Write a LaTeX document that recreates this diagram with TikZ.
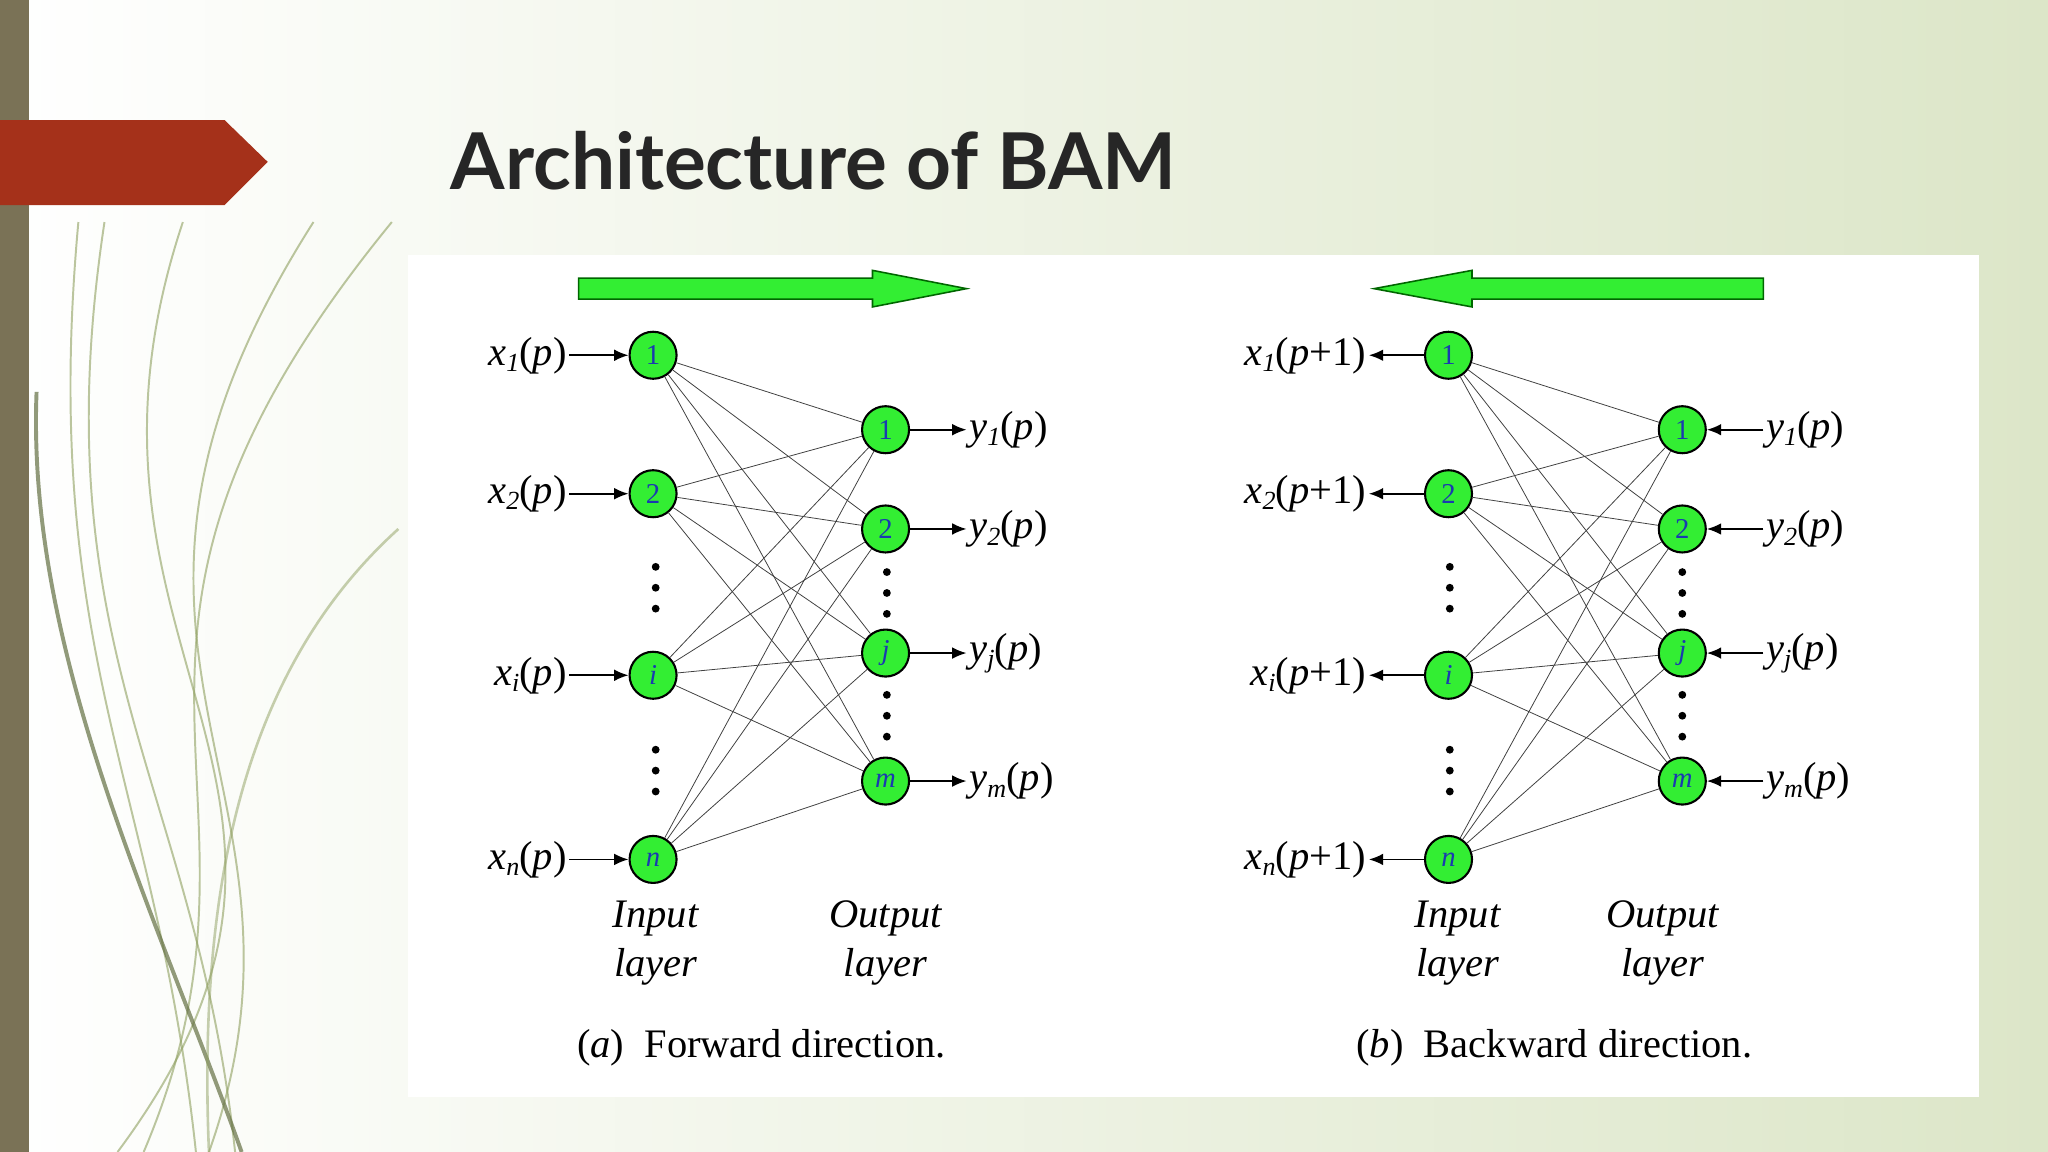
\documentclass[tikz,border=0pt]{standalone}
\usepackage{fontspec}
\setmainfont{Liberation Serif}
\newfontfamily\titlefont{Lato}
\usetikzlibrary{arrows.meta}
\definecolor{bgA}{HTML}{FFFFFF}
\definecolor{bgB}{HTML}{DCE6C8}
\definecolor{bar}{HTML}{7A7256}
\definecolor{redtab}{HTML}{A5311A}
\definecolor{nodegreen}{HTML}{33EE33}
\definecolor{numblue}{HTML}{1A3AB0}
\definecolor{leaf}{HTML}{8FA060}
\newcommand{\vv}[2]{\textit{#1}\raisebox{-5pt}{\fontsize{20}{20}\selectfont\textit{#2}}}
\tikzset{
 neuron/.style={circle,draw=black,line width=1.6pt,fill=nodegreen,minimum size=36pt,inner sep=0pt,font=\fontsize{22}{22}\selectfont\color{numblue}},
 lab/.style={font=\fontsize{31}{31}\selectfont,inner sep=2pt},
 sig/.style={-{Latex[length=11pt,width=9pt]},line width=1.4pt},
 wire/.style={line width=0.6pt,black!75},
 dot/.style={circle,fill=black,inner sep=0pt,minimum size=6pt},
 big/.style={fill=nodegreen,draw=black!60!green,line width=1.2pt},
 txt/.style={font=\fontsize{31}{37}\selectfont\itshape,align=center},
}
\begin{document}
\begin{tikzpicture}[x=1pt,y=-1pt]
\useasboundingbox (0,0) rectangle (1568,882);
\shade[left color=bgA,right color=bgB] (0,0) rectangle (1568,882);
\fill[bar] (0,0) rectangle (22,882);
\foreach \a/\b/\c in {80/150/180, 60/120/150, 300/230/110, 240/260/160, 140/300/90}{
  \draw[leaf,line width=1.5pt,opacity=0.6] (\c,882) .. controls (\b,600) and (30,500) .. (\a,170);
}
\draw[leaf!70!black,line width=3pt,opacity=0.7] (185,882) .. controls (120,700) and (20,500) .. (28,300);
\draw[leaf,line width=2pt,opacity=0.5] (160,882) .. controls (150,650) and (200,500) .. (305,405);
\fill[redtab] (0,92) -- (172,92) -- (205,124) -- (172,157) -- (0,157) -- cycle;
\node[anchor=base west,inner sep=0,font=\titlefont\bfseries\fontsize{60}{60}\selectfont,text=black!85] (title) at (345,145) {Architecture of BAM};
\fill[white] (312,195) rectangle (1515,840);
% ---------- panel a
\fill[big] (443,213) -- (668,213) -- (668,207) -- (740,221) -- (668,235) -- (668,229) -- (443,229) -- cycle;
\foreach \n/\y/\t in {1/272/1,2/378/2,3/517/\textit{i},4/658/\textit{n}}
  \node[neuron] (aI\n) at (500,\y) {\t};
\foreach \n/\y/\t in {1/329/1,2/405/2,3/500/\textit{j},4/598/\textit{m}}
  \node[neuron] (aO\n) at (678,\y) {\t};
\foreach \i in {1,...,4}\foreach \o in {1,...,4} \draw[wire] (aI\i) -- (aO\o);
\foreach \n/\y/\t in {1/272/{\vv{x}{1}(\textit{p})},2/378/{\vv{x}{2}(\textit{p})},3/517/{\vv{x}{i}(\textit{p})},4/658/{\vv{x}{n}(\textit{p})}}{
  \node[lab,anchor=east] (aX\n) at (436,\y) {\t};
  \draw[sig] (aX\n) -- (aI\n);}
\foreach \n/\y/\t in {1/329/{\vv{y}{1}(\textit{p})},2/405/{\vv{y}{2}(\textit{p})},3/500/{\vv{y}{j}(\textit{p})},4/598/{\vv{y}{m}(\textit{p})}}{
  \node[lab,anchor=west] (aY\n) at (740,\y) {\t};
  \draw[sig] (aO\n) -- (aY\n);}
\foreach \y in {434,450,466,574,590,606} \node[dot] at (502,\y) {};
\foreach \y in {438,454,470,532,548,564} \node[dot] at (679,\y) {};
\node[txt] (aIn) at (502,722) {Input\\layer};
\node[txt] (aOut) at (678,722) {Output\\layer};
\node[font=\fontsize{31}{31}\selectfont] (capa) at (583,802) {(\textit{a})\ \ Forward direction.};
% ---------- panel b
\fill[big] (1350,213) -- (1127,213) -- (1127,207) -- (1052,221) -- (1127,235) -- (1127,229) -- (1350,229) -- cycle;
\foreach \n/\y/\t in {1/272/1,2/378/2,3/517/\textit{i},4/658/\textit{n}}
  \node[neuron] (bI\n) at (1109,\y) {\t};
\foreach \n/\y/\t in {1/329/1,2/405/2,3/500/\textit{j},4/598/\textit{m}}
  \node[neuron] (bO\n) at (1288,\y) {\t};
\foreach \i in {1,...,4}\foreach \o in {1,...,4} \draw[wire] (bI\i) -- (bO\o);
\foreach \n/\y/\t in {1/272/{\vv{x}{1}(\textit{p}+1)},2/378/{\vv{x}{2}(\textit{p}+1)},3/517/{\vv{x}{i}(\textit{p}+1)},4/658/{\vv{x}{n}(\textit{p}+1)}}{
  \node[lab,anchor=east] (bX\n) at (1048,\y) {\t};
  \draw[sig] (bI\n) -- (bX\n);}
\foreach \n/\y/\t in {1/329/{\vv{y}{1}(\textit{p})},2/405/{\vv{y}{2}(\textit{p})},3/500/{\vv{y}{j}(\textit{p})},4/598/{\vv{y}{m}(\textit{p})}}{
  \node[lab,anchor=west] (bY\n) at (1350,\y) {\t};
  \draw[sig] (bY\n) -- (bO\n);}
\foreach \y in {434,450,466,574,590,606} \node[dot] at (1110,\y) {};
\foreach \y in {438,454,470,532,548,564} \node[dot] at (1288,\y) {};
\node[txt] (bIn) at (1116,722) {Input\\layer};
\node[txt] (bOut) at (1273,722) {Output\\layer};
\node[font=\fontsize{31}{31}\selectfont] (capb) at (1190,802) {(\textit{b})\ \ Backward direction.};
\end{tikzpicture}
\end{document}
